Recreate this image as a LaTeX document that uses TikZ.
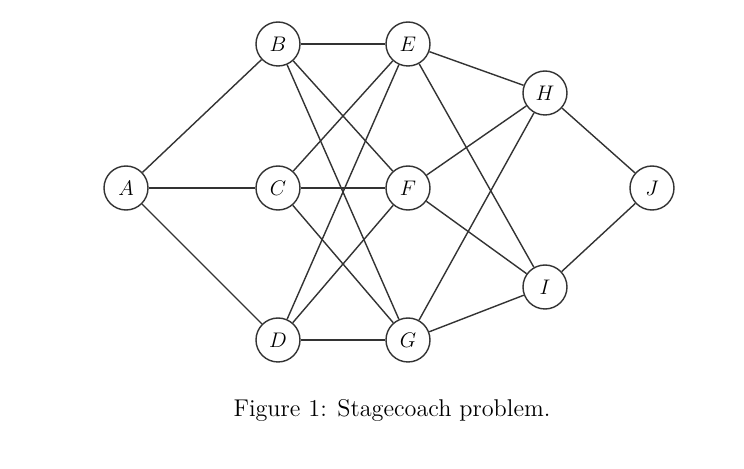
\documentclass[tikz,border=0pt]{standalone}
\usetikzlibrary{shapes}
\tikzstyle{nd}=[circle,draw=black!80,thick,minimum size=.88cm,inner sep=1pt,fill=white,font=\fontsize{13}{16}\selectfont]

\begin{document}
\begin{tikzpicture}
\useasboundingbox (0,0) rectangle (14.88,9.38);
\node[nd] (A) at (2.52,5.62) {$A$};
\node[nd] (B) at (5.56,8.5) {$B$};
\node[nd] (C) at (5.56,5.62) {$C$};
\node[nd] (D) at (5.56,2.58) {$D$};
\node[nd] (E) at (8.16,8.5) {$E$};
\node[nd] (F) at (8.16,5.62) {$F$};
\node[nd] (G) at (8.16,2.58) {$G$};
\node[nd] (H) at (10.9,7.52) {$H$};
\node[nd] (I) at (10.9,3.64) {$I$};
\node[nd] (J) at (13.04,5.62) {$J$};
\foreach \u/\v in {A/B,A/C,A/D,B/E,B/F,B/G,C/E,C/F,C/G,D/E,D/F,D/G,E/H,E/I,F/H,F/I,G/H,G/I,H/J,I/J}
  \draw[black!80,thick] (\u) -- (\v);
\node[font=\fontsize{13.8}{16}\selectfont] (cap) at (7.84,1.18) {Figure 1: Stagecoach problem.};
\end{tikzpicture}
\end{document}
